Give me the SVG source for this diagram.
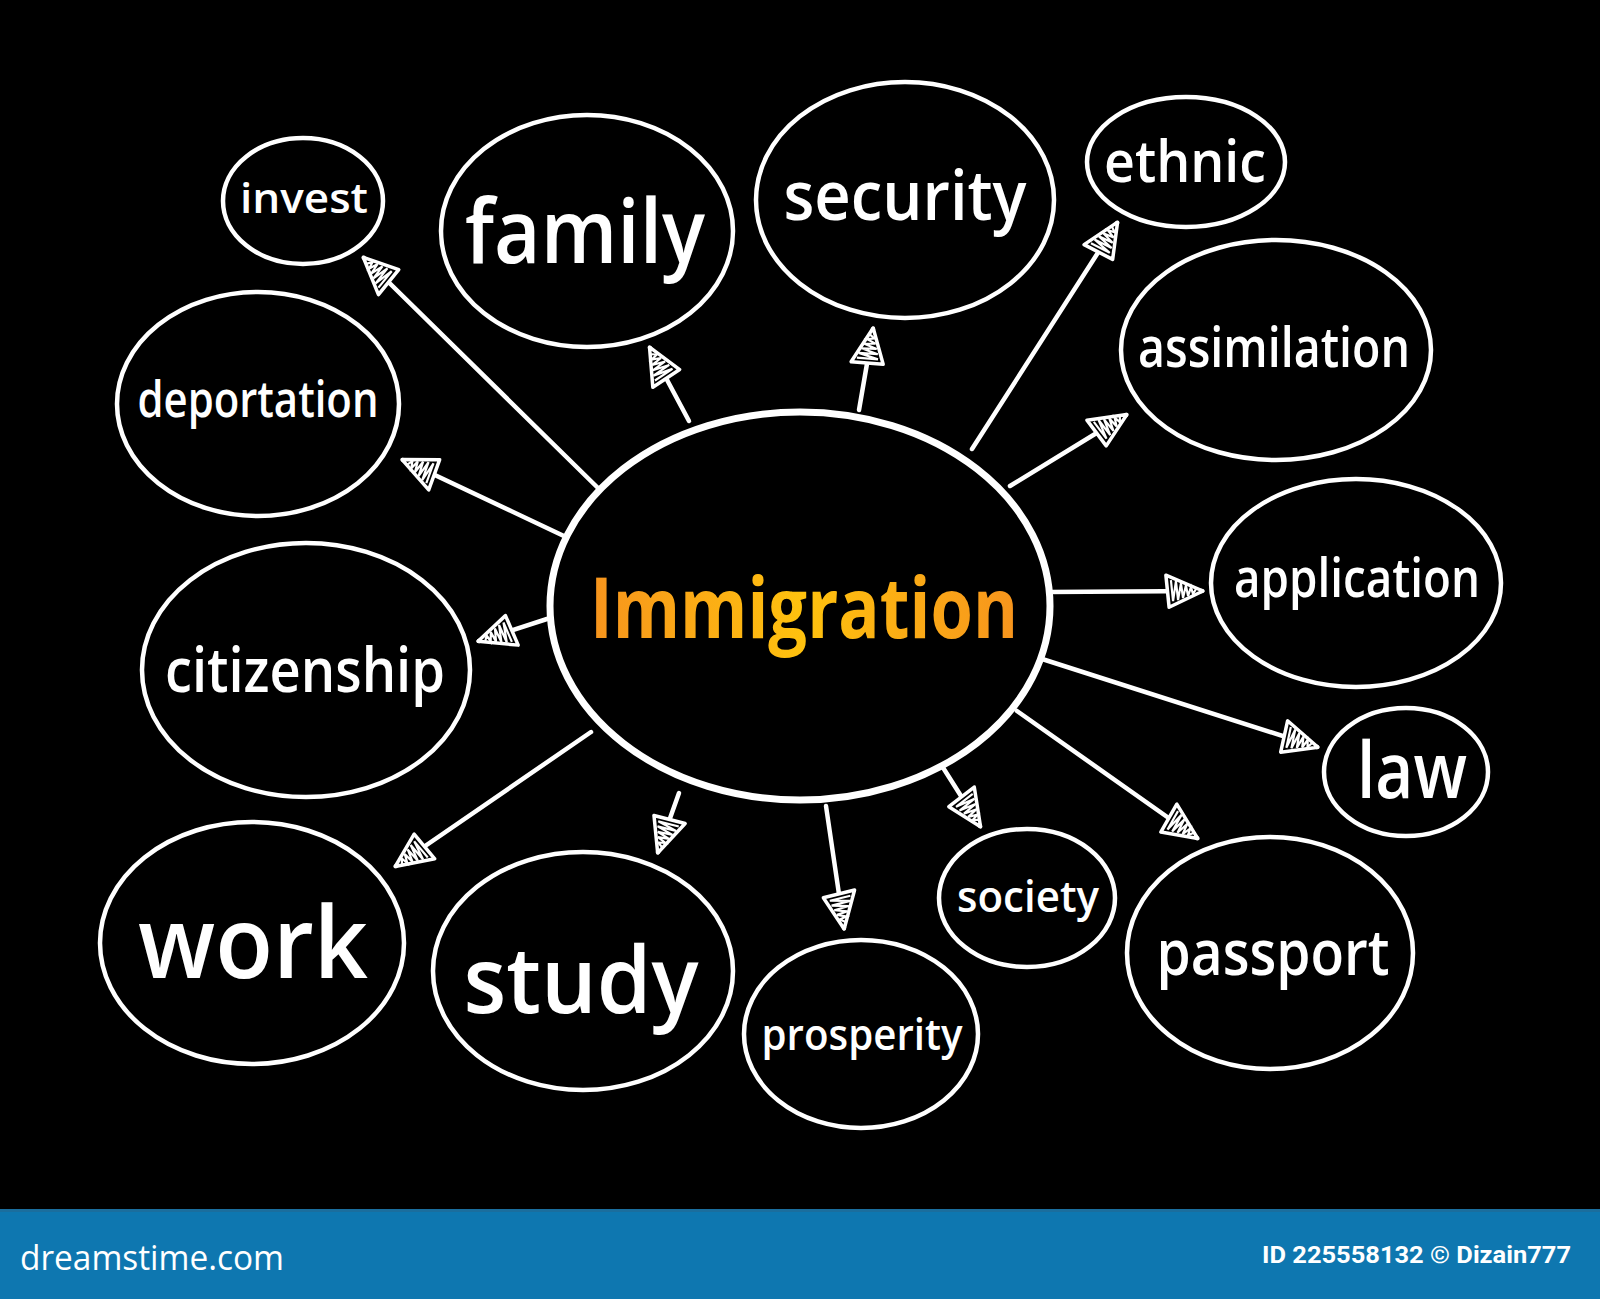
<svg xmlns="http://www.w3.org/2000/svg" width="1600" height="1299" viewBox="0 0 1600 1299">
  <defs>
    <linearGradient id="gold" x1="0" y1="0" x2="1" y2="0">
      <stop offset="0" stop-color="#F7941D"/>
      <stop offset="0.5" stop-color="#FFC20E"/>
      <stop offset="1" stop-color="#F7941D"/>
    </linearGradient>
    <marker id="head" markerUnits="userSpaceOnUse" viewBox="-42 -22 46 44" markerWidth="46" markerHeight="44" refX="0" refY="0" orient="auto" overflow="visible">
      <path d="M1,0 L-36,-16 L-33,16 Z" fill="#000" stroke="#fff" stroke-width="3.5" stroke-linejoin="round"/>
      <path d="M-31,-11 L-29,10 L-26,-10 L-24,9 L-21,-8 L-19,7 L-16,-6 L-14,5 L-11,-4 L-9,3 L-6,-2" fill="none" stroke="#fff" stroke-width="2.2"/>
    </marker>
  </defs>
  <style>
    .bg { fill: #000; }
    .node ellipse { fill: #000; stroke: #fff; stroke-width: 4.5; }
    .node text { fill: #fff; font-family: "Open Sans", "Lato", "DejaVu Sans", sans-serif; font-weight: 600; text-anchor: middle; }
    .links line { stroke: #fff; stroke-width: 4.5; stroke-linecap: round; marker-end: url(#head); }
    .center ellipse { fill: #000; stroke: #fff; stroke-width: 7; }
    .center text { fill: url(#gold); font-family: "Open Sans", "Lato", sans-serif; font-weight: 700; text-anchor: middle; }
    .bar text { fill: #fff; }
  </style>
  <rect class="bg" x="0" y="0" width="1600" height="1299"/>

  <g id="connectors" class="links">
    <line x1="598" y1="488" x2="364" y2="258"/>
    <line x1="689" y1="421" x2="650" y2="348"/>
    <line x1="859" y1="410" x2="873" y2="329"/>
    <line x1="972" y1="449" x2="1117" y2="223"/>
    <line x1="1010" y1="486" x2="1126" y2="415"/>
    <line x1="1049" y1="592" x2="1202" y2="591"/>
    <line x1="1039" y1="658" x2="1317" y2="747"/>
    <line x1="1017" y1="711" x2="1197" y2="838"/>
    <line x1="942" y1="766" x2="980" y2="826"/>
    <line x1="826" y1="806" x2="844" y2="928"/>
    <line x1="679" y1="793" x2="658" y2="852"/>
    <line x1="591" y1="732" x2="396" y2="866"/>
    <line x1="550" y1="618" x2="479" y2="641"/>
    <line x1="566" y1="537" x2="403" y2="460"/>
  </g>

  <g id="node-immigration" class="center">
    <ellipse cx="800" cy="606" rx="250" ry="194"/>
    <text x="804" y="638" font-size="85" textLength="428" lengthAdjust="spacingAndGlyphs">Immigration</text>
  </g>

  <g id="node-invest" class="node">
    <ellipse cx="303" cy="201" rx="80" ry="63"/>
    <text x="304" y="213" font-size="42" textLength="128" lengthAdjust="spacingAndGlyphs">invest</text>
  </g>
  <g id="node-family" class="node">
    <ellipse cx="587" cy="231" rx="146" ry="116"/>
    <text x="585" y="263" font-size="88" font-weight="700" textLength="240" lengthAdjust="spacingAndGlyphs">family</text>
  </g>
  <g id="node-security" class="node">
    <ellipse cx="905" cy="200" rx="149" ry="118"/>
    <text x="905" y="220" font-size="68" textLength="243" lengthAdjust="spacingAndGlyphs">security</text>
  </g>
  <g id="node-ethnic" class="node">
    <ellipse cx="1186" cy="162" rx="99" ry="65"/>
    <text x="1185" y="182" font-size="58" textLength="162" lengthAdjust="spacingAndGlyphs">ethnic</text>
  </g>
  <g id="node-assimilation" class="node">
    <ellipse cx="1276" cy="350" rx="155" ry="110"/>
    <text x="1274" y="367" font-size="56" textLength="272" lengthAdjust="spacingAndGlyphs">assimilation</text>
  </g>
  <g id="node-deportation" class="node">
    <ellipse cx="258" cy="404" rx="141" ry="112"/>
    <text x="258" y="417" font-size="50" textLength="241" lengthAdjust="spacingAndGlyphs">deportation</text>
  </g>
  <g id="node-citizenship" class="node">
    <ellipse cx="306" cy="670" rx="164" ry="127"/>
    <text x="305" y="692" font-size="62" textLength="280" lengthAdjust="spacingAndGlyphs">citizenship</text>
  </g>
  <g id="node-application" class="node">
    <ellipse cx="1356" cy="583" rx="145" ry="104"/>
    <text x="1357" y="597" font-size="54" textLength="246" lengthAdjust="spacingAndGlyphs">application</text>
  </g>
  <g id="node-law" class="node">
    <ellipse cx="1406" cy="772" rx="82" ry="64"/>
    <text x="1412" y="798" font-size="78" textLength="110" lengthAdjust="spacingAndGlyphs">law</text>
  </g>
  <g id="node-work" class="node">
    <ellipse cx="252" cy="943" rx="152" ry="121"/>
    <text x="253" y="978" font-size="100" font-weight="700" textLength="230" lengthAdjust="spacingAndGlyphs">work</text>
  </g>
  <g id="node-study" class="node">
    <ellipse cx="583" cy="971" rx="150" ry="119"/>
    <text x="581" y="1013" font-size="92" font-weight="700" textLength="235" lengthAdjust="spacingAndGlyphs">study</text>
  </g>
  <g id="node-prosperity" class="node">
    <ellipse cx="861" cy="1034" rx="117" ry="94"/>
    <text x="862" y="1050" font-size="44" textLength="201" lengthAdjust="spacingAndGlyphs">prosperity</text>
  </g>
  <g id="node-society" class="node">
    <ellipse cx="1027" cy="898" rx="88" ry="69"/>
    <text x="1028" y="912" font-size="44" textLength="142" lengthAdjust="spacingAndGlyphs">society</text>
  </g>
  <g id="node-passport" class="node">
    <ellipse cx="1270" cy="953" rx="143" ry="116"/>
    <text x="1273" y="975" font-size="64" textLength="233" lengthAdjust="spacingAndGlyphs">passport</text>
  </g>

  <g id="footer" class="bar">
    <rect x="0" y="1209" width="1600" height="90" fill="#0E77B0"/>
    <rect x="0" y="1209" width="1600" height="3" fill="#1A6E9E"/>
    <text x="20" y="1270" font-family="Open Sans, Liberation Sans, sans-serif" font-size="34" textLength="264" lengthAdjust="spacingAndGlyphs">dreamstime.com</text>
    <text x="1262" y="1263" font-family="Roboto, Liberation Sans, sans-serif" font-weight="700" font-size="24" textLength="309" lengthAdjust="spacingAndGlyphs">ID 225558132 © Dizain777</text>
  </g>
</svg>
